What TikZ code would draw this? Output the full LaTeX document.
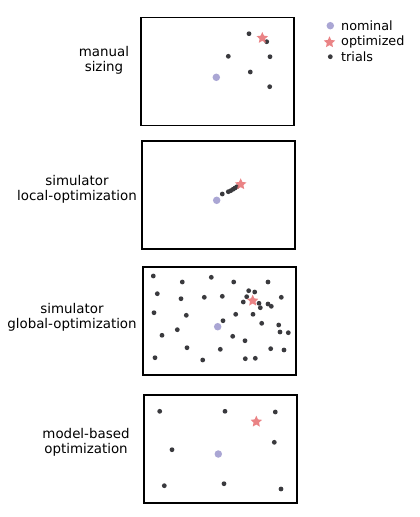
\documentclass[tikz,border=0pt]{standalone}
\usepackage{fontspec}
\setmainfont{DejaVu Sans}
\usetikzlibrary{shapes.geometric,positioning}
\definecolor{nomcol}{RGB}{170,166,212}
\definecolor{optcol}{RGB}{232,118,120}
\definecolor{trialcol}{RGB}{58,58,62}

\begin{document}
\begin{tikzpicture}[
    x=1pt, y=-1pt,
    panel/.style={rectangle, draw=black, line width=1.1pt, minimum width=153pt, minimum height=108pt, inner sep=0pt},
    method/.style={align=center, font=\fontsize{13.4pt}{15pt}\selectfont},
    legtext/.style={anchor=west, inner sep=0pt, font=\fontsize{12.8pt}{15pt}\selectfont},
    nominal/.style={circle, fill=nomcol, minimum size=7.5pt, inner sep=0pt},
    optimum/.style={star, star points=5, star point ratio=2.1, fill=optcol, fill opacity=0.9, minimum size=12pt, inner sep=0pt},
    trial/.style={circle, fill=trialcol, minimum size=4.8pt, inner sep=0pt}
]
\useasboundingbox (0,0) rectangle (420,517);

% Draw the four panels
\node[panel] (manual) at (217.5,71.5) {};
\node[panel] (local) at (218.5,195) {};
\node[panel] (global) at (219.5,321) {};
\node[panel] (model) at (220.5,449) {};

% Label each panel
\node[method] (manuallabel) at (104,60) {manual\\sizing};
\node[method] (locallabel) at (77,189) {simulator\\local-optimization};
\node[method] (globallabel) at (72,317) {simulator\\global-optimization};
\node[method] (modellabel) at (86,442) {model-based\\optimization};

% Manual sizing
\foreach \x/\y [count=\i] in {249/33.7, 266.7/41.7, 228.3/56.3, 270/56.7, 250.3/72, 269.7/86.7}
    \node[trial] (ms\i) at (\x,\y) {};
\node[nominal] (msnom) at (216.3,77.3) {};
\node[optimum] (msopt) at (262.3,38) {};

% Simulator, local optimization
\foreach \x/\y [count=\i] in {222.3/194, 228.3/191.7, 230.7/190.7, 233/189.3, 235/188, 237/186.7}
    \node[trial] (lo\i) at (\x,\y) {};
\node[nominal] (lonom) at (216.7,200.3) {};
\node[optimum] (loopt) at (240.7,184.3) {};

% Simulator, global optimization
\foreach \x/\y [count=\i] in {153.3/276, 182.3/282, 211.3/277.3, 233.7/282, 268/282,
    157.3/293.7, 181/298.7, 204.3/297.3, 222.3/296.3, 248.7/290.7, 254.7/292,
    246.7/296.7, 243.3/302, 259/303.3, 260.3/307.7, 268/304, 271.3/306.3,
    281.3/297.3, 154/312.7, 186.3/315.3, 235.7/314.3, 253/314.3, 223/320.7,
    261.7/323.3, 278.7/325, 280/332, 288.3/332.7, 177.3/329.7, 162/335.3,
    232.7/336.3, 245/340.7, 187/347.7, 220.3/349.3, 270.7/348.7, 284/350,
    155/357.7, 202.7/360, 245.3/358.7, 255.3/358.3}
    \node[trial] (go\i) at (\x,\y) {};
\node[nominal] (gonom) at (217.7,326.7) {};
\node[optimum] (goopt) at (252.7,300.7) {};

% Model-based optimization
\foreach \x/\y [count=\i] in {159.7/411.3, 225/411.3, 275.3/412, 274.3/442.3, 172/449.7, 164.3/485.7, 224/483.7, 281/489}
    \node[trial] (mb\i) at (\x,\y) {};
\node[nominal] (mbnom) at (218.3,454) {};
\node[optimum] (mbopt) at (256.3,421.7) {};

% Legend
\node[nominal] (legnom) at (330.3,25.7) {};
\node[optimum] (legopt) at (329.5,42.3) {};
\node[trial] (legtrial) at (330.3,56.7) {};
\node[legtext] at (341,26) {nominal};
\node[legtext] at (341,42) {optimized};
\node[legtext] at (341,57) {trials};

\end{tikzpicture}
\end{document}
